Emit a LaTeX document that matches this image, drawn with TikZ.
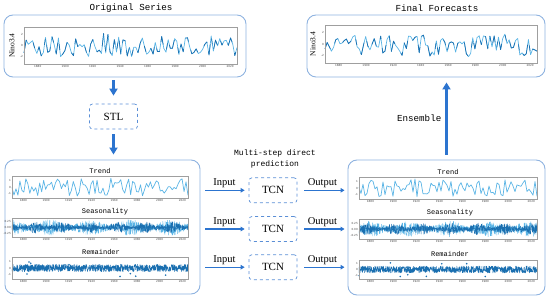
\documentclass[tikz,border=0pt]{standalone}
\usepackage{fontspec}
\setmainfont{Liberation Serif}
\newfontfamily\monofont{Liberation Mono}
\newfontfamily\tickfont{DejaVu Sans}
\usepackage{xcolor}
\usetikzlibrary{positioning, arrows.meta, calc}

\definecolor{seriesLight}{HTML}{5AB4E5}
\definecolor{seriesDark}{HTML}{1A6FB0}
\definecolor{panelBlue}{HTML}{8FB3E0}
\definecolor{arrowBlue}{HTML}{2C74CF}
\definecolor{dashBlue}{HTML}{5B8FD6}

% axes box with year and value ticks: name, left, top, right, bottom, upper, middle, lower label
\newcommand{\tsframe}[8]{%
  \draw[axisframe] (#2,#3) rectangle (#4,#5);
  \foreach \k [evaluate=\k as \yr using int(1880+20*\k)] in {0,...,7}
    \node[yeartick] (#1-yr\k) at ({#2+(#4-#2)/155*(10+20*\k)},#5) {\yr};
  \node[valtick] (#1-hi) at (#2,{#3+(#5-#3)*0.2}) {#6};
  \node[valtick] (#1-mid) at (#2,{(#3+#5)/2}) {#7};
  \node[valtick] (#1-lo) at (#2,{#3+(#5-#3)*0.8}) {#8};
}
% noisy series: style, left, right, samples, y expression in \t
\newcommand{\tsline}[5]{%
  \draw[#1] plot[domain=#2:#3, samples=#4, variable=\t] (\t,{#5});
}

\begin{document}
\begin{tikzpicture}[
    x=1pt, y=-1pt,
    panel/.style={draw=panelBlue, line width=0.9pt, rounded corners=9pt, inner sep=0pt},
    method/.style={draw=dashBlue, dashed, line width=0.7pt, rounded corners=3pt,
      minimum width=48pt, minimum height=25pt, font=\fontsize{11}{12}\selectfont},
    flow/.style={draw=arrowBlue, line width=2.4pt, -{Triangle[length=7pt,width=8pt]}},
    link/.style={draw=arrowBlue, line width=1.1pt, -{Triangle[length=4pt,width=4.5pt]}},
    linklabel/.style={font=\fontsize{10.5}{12}\selectfont, inner sep=1pt},
    heading/.style={font=\monofont\fontsize{9.2}{10}\selectfont, inner sep=0pt},
    subheading/.style={font=\monofont\fontsize{7}{8}\selectfont, inner sep=0pt},
    axisframe/.style={draw=gray!75, line width=0.4pt},
    yeartick/.style={font=\tickfont\fontsize{2.8}{3}\selectfont, anchor=north, inner sep=1pt, text=black!70},
    valtick/.style={font=\tickfont\fontsize{2.8}{3}\selectfont, anchor=east, inner sep=1pt, text=black!70},
    ylab/.style={font=\fontsize{7.5}{8}\selectfont, rotate=90, inner sep=0pt},
    light/.style={draw=seriesLight, line width=0.7pt, line join=round},
    dark/.style={draw=seriesDark, line width=0.7pt, line join=round},
    patchy/.style={dash pattern=on 14pt off 11pt on 6pt off 9pt}
  ]
  \useasboundingbox (0,0) rectangle (550,299);

  % panels
  \node[panel, minimum width=242pt, minimum height=62pt] (orig) at (125,46) {};
  \node[panel, minimum width=238pt, minimum height=62pt] (final) at (426,46) {};
  \node[panel, minimum width=195pt, minimum height=134pt] (comps) at (102.5,227) {};
  \node[panel, minimum width=197pt, minimum height=135pt] (preds) at (446.5,227.5) {};

  \node[heading] (origtitle) at (131,8) {Original Series};
  \node[heading] (finaltitle) at (437,8) {Final Forecasts};

  % original series
  \pgfmathsetseed{21}
  \tsline{light}{24}{237}{100}{46.5-15.5*(0.65*rand+0.35*rand*rand*rand)}
  \pgfmathsetseed{21}
  \tsline{dark, patchy}{24}{237}{100}{46.5-15.5*(0.65*rand+0.35*rand*rand*rand)}
  \tsframe{orig}{24}{27}{237}{64}{2}{0}{-2}
  \node[ylab] (orignino) at (12,45.5) {Nino3.4};

  % final forecasts
  \pgfmathsetseed{34}
  \tsline{light}{325}{537}{100}{45-15.5*(0.65*rand+0.35*rand*rand*rand)}
  \pgfmathsetseed{34}
  \tsline{dark, patchy}{325}{537}{100}{45-15.5*(0.65*rand+0.35*rand*rand*rand)}
  \tsframe{final}{325}{25}{537}{63}{2}{0}{-2}
  \node[ylab] (finalnino) at (313,44) {Nino3.4};

  % decomposed components
  \pgfmathsetseed{5}
  \node[subheading] (trendL) at (100,171) {Trend};
  \tsline{light}{12}{188}{90}{187-9*rand}
  \tsframe{trendL}{12}{176}{188}{198}{1}{0}{-1}
  \node[subheading] (seasL) at (105,212) {Seasonality};
  \tsline{light, line width=0.35pt}{12}{188}{700}{227.5+8*rand*(0.7+0.3*sin(\t*9))}
  \tsline{dark, line width=0.35pt}{12}{188}{700}{227.5+6*rand*(0.6+0.4*sin(\t*13))}
  \tsline{dark, line width=0.3pt}{12}{188}{400}{227.5+3*rand}
  \tsframe{seasL}{12}{218}{188}{237}{0.25}{0.00}{-0.25}
  \node[subheading] (remL) at (101,252) {Remainder};
  \tsline{dark, line width=0.45pt}{12}{188}{900}{268+3.8*rand}
  \foreach \i in {1,...,16}
    \fill[seriesDark] ({12+176*rnd},{268+8.5*rand}) circle (0.9pt);
  \tsframe{remL}{12}{257}{188}{279}{1}{0}{-1}

  % predicted components
  \node[subheading] (trendR) at (448,172) {Trend};
  \tsline{light}{359}{537}{90}{188-9*rand}
  \tsframe{trendR}{359}{177}{537}{199}{1}{0}{-1}
  \node[subheading] (seasR) at (450,213) {Seasonality};
  \tsline{light, line width=0.35pt}{359}{537}{700}{229+8*rand*(0.7+0.3*sin(\t*9))}
  \tsline{dark, line width=0.35pt}{359}{537}{700}{229+6*rand*(0.6+0.4*sin(\t*13))}
  \tsline{dark, line width=0.3pt}{359}{537}{400}{229+3*rand}
  \tsframe{seasR}{359}{219}{537}{239}{0.25}{0.00}{-0.25}
  \node[subheading] (remR) at (450,254) {Remainder};
  \tsline{dark, line width=0.45pt}{359}{537}{900}{269.5+3.5*rand}
  \foreach \i in {1,...,16}
    \fill[seriesDark] ({359+178*rnd},{269.5+8*rand}) circle (0.9pt);
  \tsframe{remR}{359}{260}{537}{279}{1}{0}{-1}

  % decomposition and models
  \node[method] (stl) at (113.5,116.5) {STL};
  \node[method] (tcn2) at (273,229) {TCN};
  \node[method, above=13pt of tcn2] (tcn1) {TCN};
  \node[method, below=12.5pt of tcn2] (tcn3) {TCN};
  \node[heading, font=\monofont\fontsize{8}{11}\selectfont, align=center] (mstep) at (275,159) {Multi-step direct\\prediction};

  \draw[flow, shorten <=3pt, shorten >=8pt] (orig.south -| stl.north) -- (stl.north);
  \draw[flow, shorten <=5pt, shorten >=5pt] (stl.south) -- (stl.south |- comps.north);
  \foreach \m in {1,2,3} {
    \draw[link, shorten <=5pt, shorten >=4pt] (comps.east |- tcn\m.west) -- node[linklabel, above=1pt] (in\m) {Input} (tcn\m.west);
    \draw[link, shorten <=7pt, shorten >=3pt] (tcn\m.east) -- node[linklabel, above=1pt] (out\m) {Output} (tcn\m.east -| preds.west);
  }
  \draw[flow, shorten <=5pt, shorten >=5pt] (preds.north) -- node[heading, left=4pt] (ens) {Ensemble} (preds.north |- final.south);
\end{tikzpicture}
\end{document}
